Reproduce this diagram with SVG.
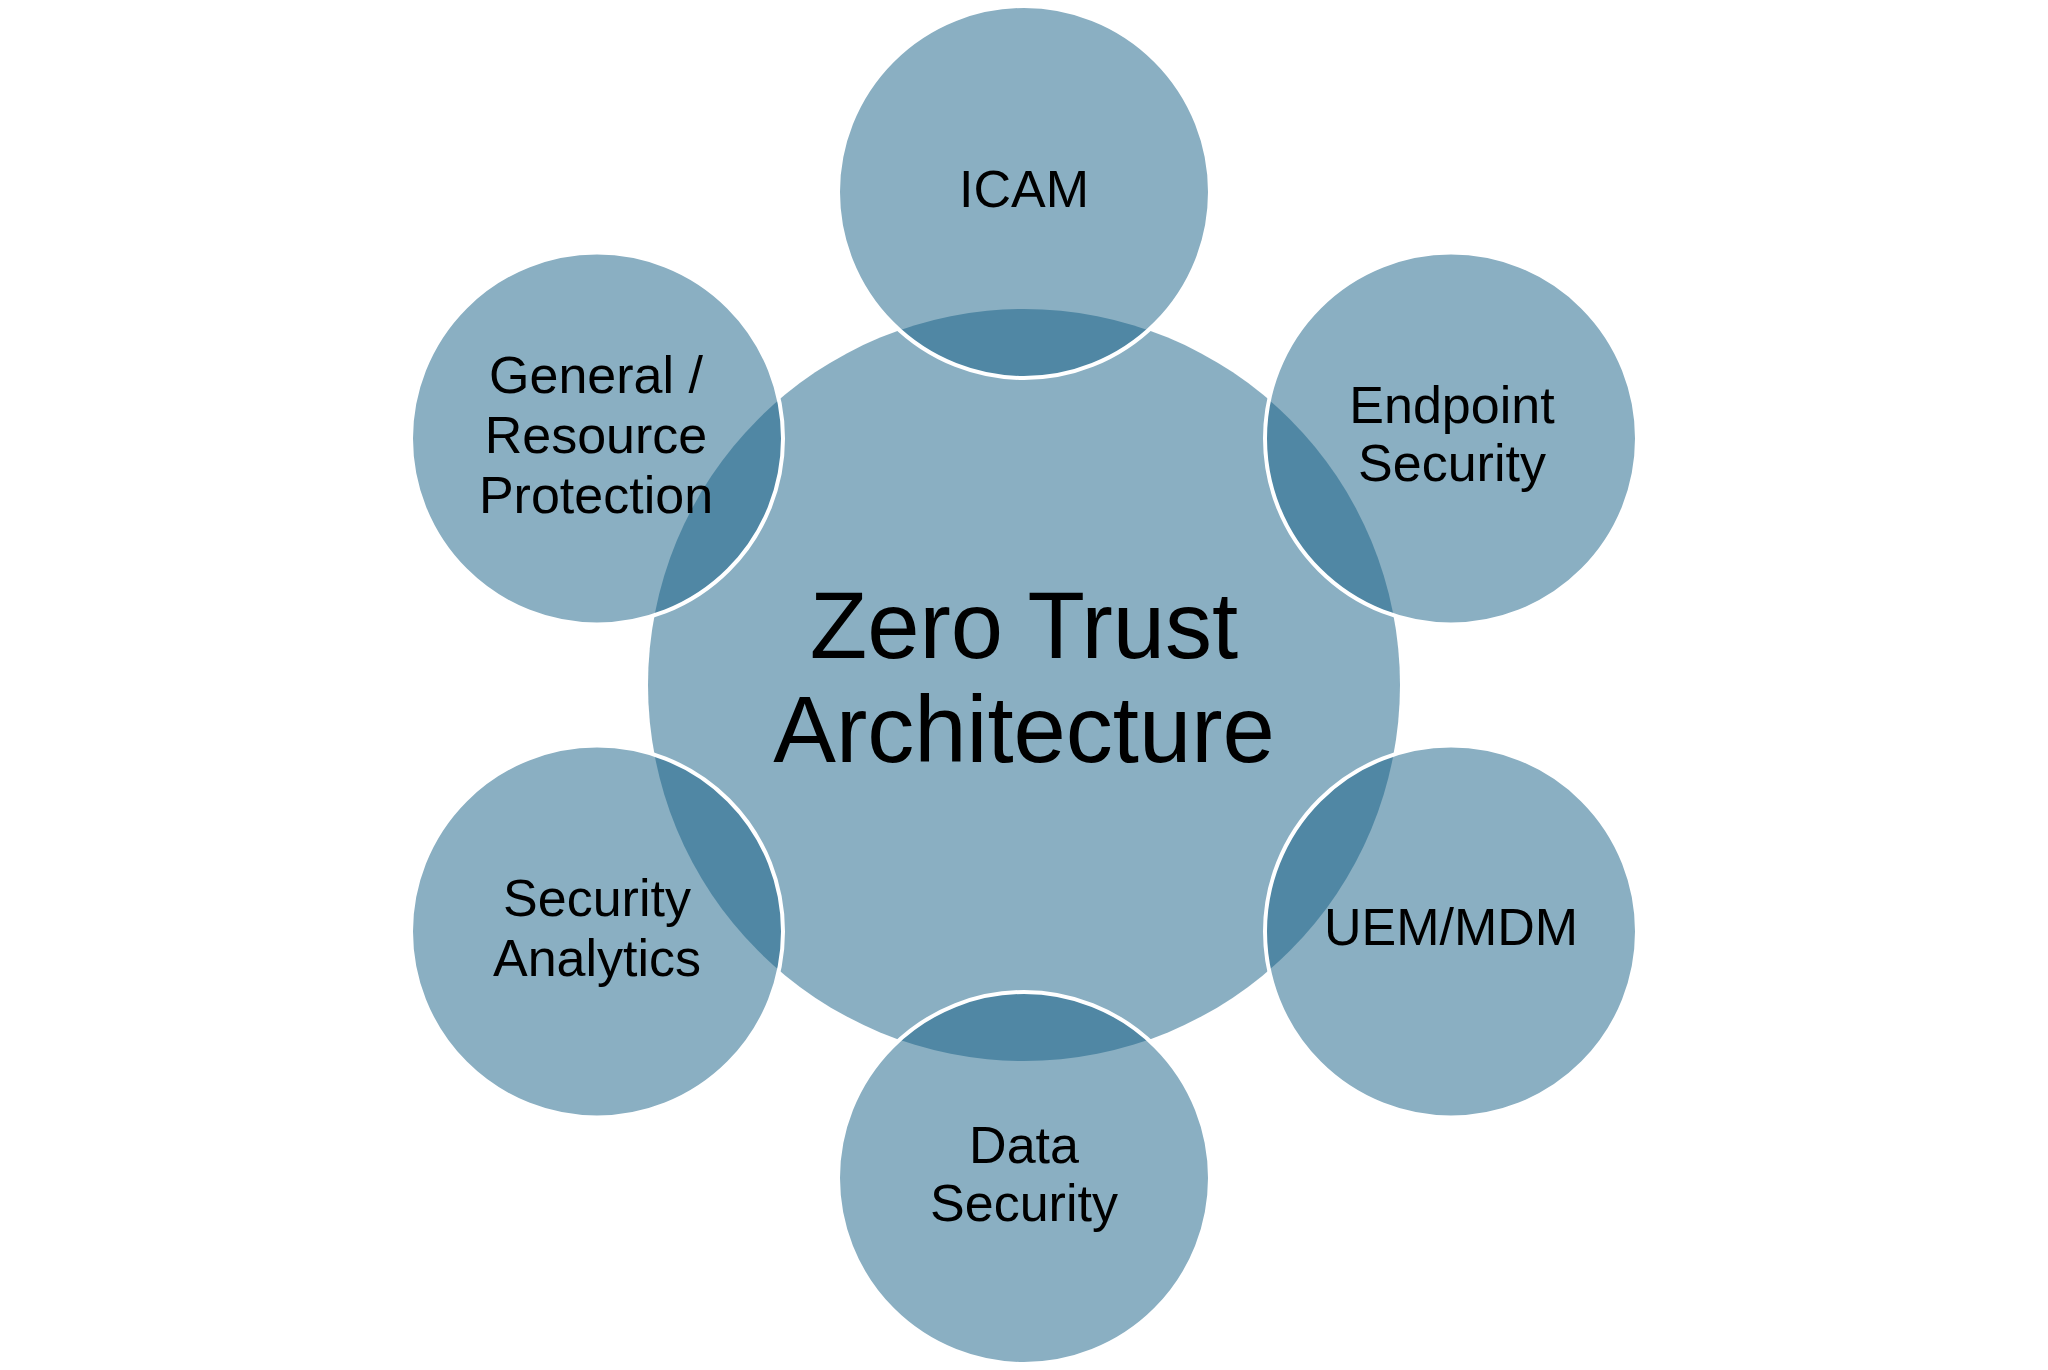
<svg xmlns="http://www.w3.org/2000/svg" width="2048" height="1370" viewBox="0 0 2048 1370">
<style>
.bg{fill:#ffffff}
.hub{fill:#165F85;fill-opacity:0.5;stroke:none}
.sat{fill:#165F85;fill-opacity:0.5;stroke:#ffffff;stroke-width:4}
.lbl{font-family:"Liberation Sans","Arial",sans-serif;font-size:52px;fill:#000000;text-anchor:middle}
.big{font-family:"Liberation Sans","Arial",sans-serif;font-size:94px;fill:#000000;text-anchor:middle}
</style>
<rect class="bg" x="0" y="0" width="2048" height="1370"/>
<g id="node-zta">
<circle class="hub" cx="1024" cy="685" r="376"/>
</g>
<g id="node-icam">
<circle class="sat" cx="1024" cy="192" r="186"/>
<text class="lbl" x="1024" y="207">ICAM</text>
</g>
<g id="node-endpoint">
<circle class="sat" cx="1451" cy="438.5" r="186"/>
<text class="lbl" x="1452" y="423">Endpoint</text>
<text class="lbl" x="1452" y="481">Security</text>
</g>
<g id="node-uem">
<circle class="sat" cx="1451" cy="931.5" r="186"/>
<text class="lbl" x="1451" y="945">UEM/MDM</text>
</g>
<g id="node-data">
<circle class="sat" cx="1024" cy="1178" r="186"/>
<text class="lbl" x="1024" y="1163">Data</text>
<text class="lbl" x="1024" y="1221">Security</text>
</g>
<g id="node-analytics">
<circle class="sat" cx="597" cy="931.5" r="186"/>
<text class="lbl" x="597" y="916">Security</text>
<text class="lbl" x="597" y="976">Analytics</text>
</g>
<g id="node-general">
<circle class="sat" cx="597" cy="438.5" r="186"/>
<text class="lbl" x="596" y="393">General /</text>
<text class="lbl" x="596" y="453">Resource</text>
<text class="lbl" x="596" y="513">Protection</text>
</g>
<g id="zta-label">
<text class="big" x="1024" y="658">Zero Trust</text>
<text class="big" x="1024" y="762">Architecture</text>
</g>
<g id="connectors"></g>
</svg>
